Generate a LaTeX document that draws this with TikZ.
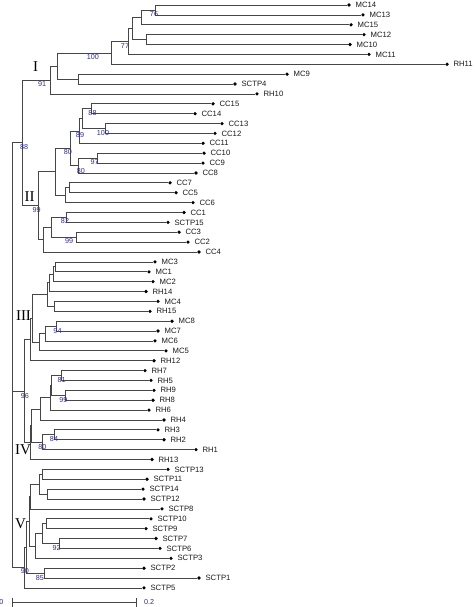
\documentclass[tikz,border=0pt]{standalone}
\usepackage{fontspec}
\setmainfont{Liberation Sans}
\newfontfamily\cladefont{Liberation Serif}

\definecolor{branch}{RGB}{70,70,70}
\definecolor{support}{RGB}{45,45,150}
\definecolor{taxon}{RGB}{25,25,25}

\tikzset{
  leaf/.style={circle, fill=black, inner sep=0pt, minimum size=3.6pt},
  every label/.style={font=\fontsize{7.7}{8}\selectfont, text=taxon, inner sep=0pt},
}

\begin{document}
\begin{tikzpicture}[x=1pt, y=-1pt, label distance=4.4pt]

        \useasboundingbox (0,0) rectangle (474,607);

        % taxa
        \node[leaf, label=right:MC14]   (mc14)   at (349,5.0)   {};
        \node[leaf, label=right:MC13]   (mc13)   at (363,14.9)  {};
        \node[leaf, label=right:MC15]   (mc15)   at (351,24.8)  {};
        \node[leaf, label=right:MC12]   (mc12)   at (364,34.6)  {};
        \node[leaf, label=right:MC10]   (mc10)   at (350,44.5)  {};
        \node[leaf, label=right:MC11]   (mc11)   at (369,54.4)  {};
        \node[leaf, label=right:RH11]   (rh11)   at (447,64.3)  {};
        \node[leaf, label=right:MC9]    (mc9)    at (287,74.2)  {};
        \node[leaf, label=right:SCTP4]  (sctp4)  at (235,84.0)  {};
        \node[leaf, label=right:RH10]   (rh10)   at (257,93.9)  {};
        \node[leaf, label=right:CC15]   (cc15)   at (213,103.8) {};
        \node[leaf, label=right:CC14]   (cc14)   at (195,113.7) {};
        \node[leaf, label=right:CC13]   (cc13)   at (222,123.6) {};
        \node[leaf, label=right:CC12]   (cc12)   at (215,133.4) {};
        \node[leaf, label=right:CC11]   (cc11)   at (203,143.3) {};
        \node[leaf, label=right:CC10]   (cc10)   at (204,153.2) {};
        \node[leaf, label=right:CC9]    (cc9)    at (203,163.1) {};
        \node[leaf, label=right:CC8]    (cc8)    at (196,173.0) {};
        \node[leaf, label=right:CC7]    (cc7)    at (170,182.8) {};
        \node[leaf, label=right:CC5]    (cc5)    at (176,192.7) {};
        \node[leaf, label=right:CC6]    (cc6)    at (193,202.6) {};
        \node[leaf, label=right:CC1]    (cc1)    at (184,212.5) {};
        \node[leaf, label=right:SCTP15] (sctp15) at (168,222.4) {};
        \node[leaf, label=right:CC3]    (cc3)    at (179,232.2) {};
        \node[leaf, label=right:CC2]    (cc2)    at (188,242.1) {};
        \node[leaf, label=right:CC4]    (cc4)    at (199,252.0) {};
        \node[leaf, label=right:MC3]    (mc3)    at (155,261.9) {};
        \node[leaf, label=right:MC1]    (mc1)    at (149,271.8) {};
        \node[leaf, label=right:MC2]    (mc2)    at (153,281.6) {};
        \node[leaf, label=right:RH14]   (rh14)   at (146,291.5) {};
        \node[leaf, label=right:MC4]    (mc4)    at (158,301.4) {};
        \node[leaf, label=right:RH15]   (rh15)   at (150,311.3) {};
        \node[leaf, label=right:MC8]    (mc8)    at (172,321.2) {};
        \node[leaf, label=right:MC7]    (mc7)    at (158,331.0) {};
        \node[leaf, label=right:MC6]    (mc6)    at (155,340.9) {};
        \node[leaf, label=right:MC5]    (mc5)    at (166,350.8) {};
        \node[leaf, label=right:RH12]   (rh12)   at (154,360.7) {};
        \node[leaf, label=right:RH7]    (rh7)    at (145,370.6) {};
        \node[leaf, label=right:RH5]    (rh5)    at (151,380.4) {};
        \node[leaf, label=right:RH9]    (rh9)    at (154,390.3) {};
        \node[leaf, label=right:RH8]    (rh8)    at (153,400.2) {};
        \node[leaf, label=right:RH6]    (rh6)    at (149,410.1) {};
        \node[leaf, label=right:RH4]    (rh4)    at (164,420.0) {};
        \node[leaf, label=right:RH3]    (rh3)    at (158,429.8) {};
        \node[leaf, label=right:RH2]    (rh2)    at (164,439.7) {};
        \node[leaf, label=right:RH1]    (rh1)    at (196,449.6) {};
        \node[leaf, label=right:RH13]   (rh13)   at (152,459.5) {};
        \node[leaf, label=right:SCTP13] (sctp13) at (168,469.4) {};
        \node[leaf, label=right:SCTP11] (sctp11) at (147,479.2) {};
        \node[leaf, label=right:SCTP14] (sctp14) at (143,489.1) {};
        \node[leaf, label=right:SCTP12] (sctp12) at (144,499.0) {};
        \node[leaf, label=right:SCTP8]  (sctp8)  at (162,508.9) {};
        \node[leaf, label=right:SCTP10] (sctp10) at (151,518.8) {};
        \node[leaf, label=right:SCTP9]  (sctp9)  at (146,528.6) {};
        \node[leaf, label=right:SCTP7]  (sctp7)  at (156,538.5) {};
        \node[leaf, label=right:SCTP6]  (sctp6)  at (160,548.4) {};
        \node[leaf, label=right:SCTP3]  (sctp3)  at (171,558.3) {};
        \node[leaf, label=right:SCTP2]  (sctp2)  at (144,568.2) {};
        \node[leaf, label=right:SCTP1]  (sctp1)  at (199,578.0) {};
        \node[leaf, label=right:SCTP5]  (sctp5)  at (144,587.9) {};

        % inner nodes
        \coordinate (n1)  at (155,9.95);
        \coordinate (n2)  at (141.7,17.4);
        \coordinate (n3)  at (146.7,39.55);
        \coordinate (n4)  at (132.5,28.5);
        \coordinate (n5)  at (128.3,41.45);
        \coordinate (n6)  at (111,52.9);
        \coordinate (n7)  at (78.3,79.1);
        \coordinate (n8)  at (57.7,66.0);
        \coordinate (n9)  at (50,79.95);
        \coordinate (n10) at (91.7,108.75);
        \coordinate (n11) at (105,128.5);
        \coordinate (n12) at (82.3,118.6);
        \coordinate (n13) at (79,130.95);
        \coordinate (n14) at (97,158.15);
        \coordinate (n15) at (78,165.6);
        \coordinate (n16) at (70,148.3);
        \coordinate (n17) at (69,187.75);
        \coordinate (n18) at (65,195.2);
        \coordinate (n19) at (55,171.75);
        \coordinate (n20) at (66,217.45);
        \coordinate (n21) at (76,237.15);
        \coordinate (n22) at (51.7,227.3);
        \coordinate (n23) at (43,239.65);
        \coordinate (n24) at (38.3,205.7);
        \coordinate (n25) at (22.7,142.8);
        \coordinate (n26) at (55.7,266.85);
        \coordinate (n27) at (53.3,274.2);
        \coordinate (n28) at (49.3,282.85);
        \coordinate (n29) at (54.3,306.35);
        \coordinate (n30) at (47.3,294.6);
        \coordinate (n31) at (56,326.1);
        \coordinate (n32) at (45,333.5);
        \coordinate (n33) at (39.3,342.15);
        \coordinate (n34) at (32.7,318.4);
        \coordinate (n35) at (30,339.55);
        \coordinate (n36) at (61.7,375.5);
        \coordinate (n37) at (65,395.25);
        \coordinate (n38) at (51,385.4);
        \coordinate (n39) at (50,397.75);
        \coordinate (n40) at (40.7,408.9);
        \coordinate (n41) at (54.3,434.75);
        \coordinate (n42) at (42.7,442.2);
        \coordinate (n43) at (31.2,425.55);
        \coordinate (n44) at (30.7,442.5);
        \coordinate (n45) at (24.3,391.0);
        \coordinate (n46) at (42.7,474.3);
        \coordinate (n47) at (47.3,494.05);
        \coordinate (n48) at (39.3,484.2);
        \coordinate (n49) at (30.7,496.55);
        \coordinate (n50) at (46,523.7);
        \coordinate (n51) at (59.3,543.45);
        \coordinate (n52) at (42.3,533.6);
        \coordinate (n53) at (35,545.95);
        \coordinate (n54) at (29.3,521.25);
        \coordinate (n55) at (44.3,573.1);
        \coordinate (n56) at (26,547.2);
        \coordinate (n57) at (24,567.55);
        \coordinate (n58) at (12.7,391.0);

        \begin{scope}[every edge/.style={draw=branch, line width=0.75pt,
            to path={|- (\tikztotarget) \tikztonodes}}]
          \path (n1)  edge (mc14) edge (mc13);
          \path (n2)  edge (n1)   edge (mc15);
          \path (n3)  edge (mc12) edge (mc10);
          \path (n4)  edge (n2)   edge (n3);
          \path (n5)  edge (n4)   edge (mc11);
          \path (n6)  edge (n5)   edge (rh11);
          \path (n7)  edge (mc9)  edge (sctp4);
          \path (n8)  edge (n6)   edge (n7);
          \path (n9)  edge (n8)   edge (rh10);
          \path (n10) edge (cc15) edge (cc14);
          \path (n11) edge (cc13) edge (cc12);
          \path (n12) edge (n10)  edge (n11);
          \path (n13) edge (n12)  edge (cc11);
          \path (n14) edge (cc10) edge (cc9);
          \path (n15) edge (n14)  edge (cc8);
          \path (n16) edge (n13)  edge (n15);
          \path (n17) edge (cc7)  edge (cc5);
          \path (n18) edge (n17)  edge (cc6);
          \path (n19) edge (n16)  edge (n18);
          \path (n20) edge (cc1)  edge (sctp15);
          \path (n21) edge (cc3)  edge (cc2);
          \path (n22) edge (n20)  edge (n21);
          \path (n23) edge (n22)  edge (cc4);
          \path (n24) edge (n19)  edge (n23);
          \path (n25) edge (n9)   edge (n24);
          \path (n26) edge (mc3)  edge (mc1);
          \path (n27) edge (n26)  edge (mc2);
          \path (n28) edge (n27)  edge (rh14);
          \path (n29) edge (mc4)  edge (rh15);
          \path (n30) edge (n28)  edge (n29);
          \path (n31) edge (mc8)  edge (mc7);
          \path (n32) edge (n31)  edge (mc6);
          \path (n33) edge (n32)  edge (mc5);
          \path (n34) edge (n30)  edge (n33);
          \path (n35) edge (n34)  edge (rh12);
          \path (n36) edge (rh7)  edge (rh5);
          \path (n37) edge (rh9)  edge (rh8);
          \path (n38) edge (n36)  edge (n37);
          \path (n39) edge (n38)  edge (rh6);
          \path (n40) edge (n39)  edge (rh4);
          \path (n41) edge (rh3)  edge (rh2);
          \path (n42) edge (n41)  edge (rh1);
          \path (n43) edge (n40)  edge (n42);
          \path (n44) edge (n43)  edge (rh13);
          \path (n45) edge (n35)  edge (n44);
          \path (n46) edge (sctp13) edge (sctp11);
          \path (n47) edge (sctp14) edge (sctp12);
          \path (n48) edge (n46)  edge (n47);
          \path (n49) edge (n48)  edge (sctp8);
          \path (n50) edge (sctp10) edge (sctp9);
          \path (n51) edge (sctp7) edge (sctp6);
          \path (n52) edge (n50)  edge (n51);
          \path (n53) edge (n52)  edge (sctp3);
          \path (n54) edge (n49)  edge (n53);
          \path (n55) edge (sctp2) edge (sctp1);
          \path (n56) edge (n54)  edge (n55);
          \path (n57) edge (n56)  edge (sctp5);
          \path (n58) edge (n25)  edge (n45) edge (n57);
        \end{scope}

        % bootstrap values
        \begin{scope}[every node/.style={font=\fontsize{7.2}{8}\selectfont, text=support, inner sep=0pt}]
          \node (b1)  at (154,14)    {76};
          \node (b2)  at (125,45.7)  {77};
          \node (b3)  at (92.8,56.7) {100};
          \node (b4)  at (42.2,84)   {91};
          \node (b5)  at (24.2,146.7) {88};
          \node (b6)  at (92.5,113.3) {88};
          \node (b7)  at (103,132.7) {100};
          \node (b8)  at (80,135)    {89};
          \node (b9)  at (68,152.3)  {80};
          \node (b10) at (94.7,162.3) {97};
          \node (b11) at (80.8,171)  {80};
          \node (b12) at (36.7,210)  {99};
          \node (b13) at (65,221)    {82};
          \node (b14) at (69.2,241)  {99};
          \node (b15) at (57.5,331)  {94};
          \node (b16) at (24.8,395.7) {96};
          \node (b17) at (61.7,380)  {81};
          \node (b18) at (63.3,400)  {99};
          \node (b19) at (54,439)    {84};
          \node (b20) at (42.5,446.7) {80};
          \node (b21) at (56.7,548)  {92};
          \node (b22) at (24.8,571.3) {90};
          \node (b23) at (40,578)    {85};
        \end{scope}

        % clades
        \begin{scope}[every node/.style={font=\cladefont\fontsize{15}{16}\selectfont, text=black, inner sep=0pt}]
          \node (c1) at (35.5,67)  {I};
          \node (c2) at (29.5,197) {II};
          \node (c3) at (23.5,316) {III};
          \node (c4) at (23,450)   {IV};
          \node (c5) at (20.5,524) {V};
        \end{scope}

        % scale bar
        \coordinate (s0) at (12.3,602.7);
        \coordinate (s1) at (136.7,602.7);
        \draw[branch, line width=0.6pt] (s0) -- (s1);
        \draw[branch, line width=0.6pt] ([yshift=4.5pt]s0) -- ([yshift=-4.5pt]s0);
        \draw[branch, line width=0.6pt] ([yshift=4.5pt]s1) -- ([yshift=-4.5pt]s1);
        \node[font=\fontsize{7.2}{8}\selectfont, text=support, inner sep=0pt, anchor=east] (t0) at (3.5,602) {0};
        \node[font=\fontsize{7.2}{8}\selectfont, text=support, inner sep=0pt] (t1) at (149.2,601.7) {0.2};

\end{tikzpicture}
\end{document}
